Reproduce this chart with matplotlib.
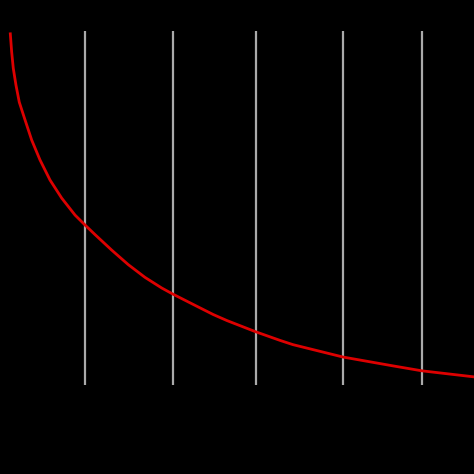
import matplotlib
matplotlib.use("Agg")
import matplotlib.pyplot as plt

# values (x in grid units, y as fraction of axis height)
curve_x = [0.122, 0.138, 0.157, 0.189, 0.228, 0.296, 0.375, 0.473, 0.592, 0.730,
           0.888, 1.006, 1.124, 1.322, 1.518, 1.716, 1.914, 2.044, 2.308, 2.524,
           2.686, 3.030, 3.314, 3.467, 4.059, 4.651, 4.994, 5.609]
curve_y = [0.992, 0.941, 0.895, 0.847, 0.799, 0.749, 0.692, 0.636, 0.579, 0.528,
           0.480, 0.452, 0.425, 0.381, 0.340, 0.304, 0.274, 0.257, 0.225, 0.199,
           0.182, 0.150, 0.126, 0.114, 0.079, 0.054, 0.040, 0.023]
grid_x = [1.006, 2.044, 3.030, 4.059, 4.994]

fig = plt.figure(figsize=(4.74, 4.74), dpi=100, facecolor="black")
ax = fig.add_axes([0, 89 / 474, 1, 354 / 474])
ax.set_facecolor("black")

for gx in grid_x:
    ax.axvline(gx, color="#aaaaaa", linewidth=1.6, zorder=1)

ax.plot(curve_x, curve_y, color="#dd0000", linewidth=2.0, zorder=2,
        clip_on=False, solid_joinstyle="round")

ax.set_xlim(0, 474 / 84.5)
ax.set_ylim(0, 1)
for s in ax.spines.values():
    s.set_visible(False)
ax.set_xticks([])
ax.set_yticks([])

fig.savefig("out.png", facecolor="black")
